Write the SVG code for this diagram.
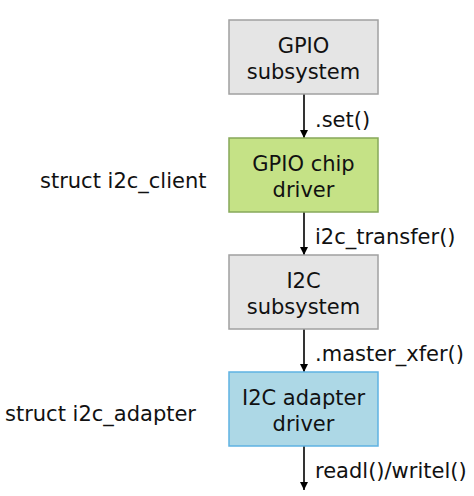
<svg xmlns="http://www.w3.org/2000/svg" width="474" height="496" viewBox="0 0 474 496">
<style>
text{font-family:"DejaVu Sans",sans-serif;font-size:21px;fill:#111}
.c{text-anchor:middle}
.gray{fill:#e5e5e5;stroke:#a0a0a0;stroke-width:1.5}
.green{fill:#c5e286;stroke:#86a85a;stroke-width:1.5}
.blue{fill:#add8e6;stroke:#5fb2e2;stroke-width:1.5}
.edge{stroke:#000;stroke-width:1.6;fill:none;marker-end:url(#ah)}
</style>
<defs>
<marker id="ah" viewBox="0 0 10 10" refX="10" refY="5" markerWidth="8" markerHeight="8" markerUnits="userSpaceOnUse" orient="auto">
<path d="M0,0 L10,5 L0,10 z" fill="#000"/>
</marker>
</defs>
<rect width="474" height="496" fill="#fff"/>
<g id="connectors">
<line class="edge" x1="304" y1="94" x2="304" y2="138"/>
<line class="edge" x1="304" y1="212" x2="304" y2="255"/>
<line class="edge" x1="304" y1="329" x2="304" y2="372"/>
<line class="edge" x1="304" y1="446" x2="304" y2="490"/>
<text x="315" y="127">.set()</text>
<text x="315" y="244">i2c_transfer()</text>
<text x="315" y="361">.master_xfer()</text>
<text x="315" y="478">readl()/writel()</text>
</g>
<g id="gpio_subsystem">
<rect class="gray" x="229" y="20" width="149" height="74"/>
<text class="c" x="303.5" y="53">GPIO</text>
<text class="c" x="303.5" y="79">subsystem</text>
</g>
<g id="gpio_chip_driver">
<rect class="green" x="229" y="138" width="149" height="74"/>
<text class="c" x="303.5" y="171">GPIO chip</text>
<text class="c" x="303.5" y="197">driver</text>
</g>
<g id="i2c_subsystem">
<rect class="gray" x="229" y="255" width="149" height="74"/>
<text class="c" x="303.5" y="288">I2C</text>
<text class="c" x="303.5" y="314">subsystem</text>
</g>
<g id="i2c_adapter_driver">
<rect class="blue" x="229" y="372" width="149" height="74"/>
<text class="c" x="303.5" y="405">I2C adapter</text>
<text class="c" x="303.5" y="431">driver</text>
</g>
<g id="struct_i2c_client">
<text x="40" y="188">struct i2c_client</text>
</g>
<g id="struct_i2c_adapter">
<text x="5" y="421">struct i2c_adapter</text>
</g>
</svg>
